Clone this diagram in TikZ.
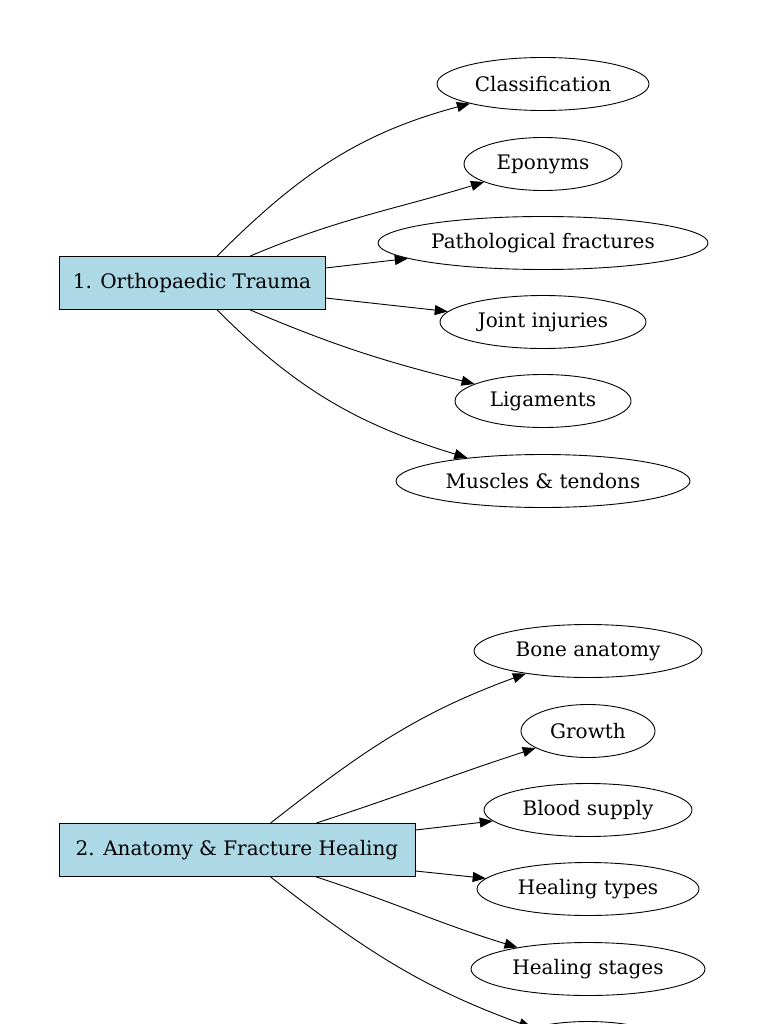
\documentclass[tikz,border=0pt]{standalone}
\usepackage{fontspec}
\setmainfont{DejaVu Serif}
\usetikzlibrary{arrows.meta,shapes.geometric,calc}
\begin{document}
\begin{tikzpicture}[x=1pt,y=-1pt,
  box/.style={draw,fill=lightblue,rectangle,minimum height=53pt,inner xsep=12pt,font=\fontsize{20}{24}\selectfont},
  ell/.style={draw,ellipse,minimum height=53pt,inner sep=0pt,font=\fontsize{20}{24}\selectfont,line width=0.9pt},
  arr/.style={line width=0.9pt,-{Triangle[length=13pt,width=10pt]}}]
\definecolor{lightblue}{HTML}{ADD8E6}
\useasboundingbox (0,0) rectangle (768,1024);
\clip (0,0) rectangle (768,1024);
\node[box,draw,line width=0.9pt,minimum width=266pt] (t) at (192,283) {1. Orthopaedic Trauma};
\node[ell,minimum width=212pt] (a1) at (543,84) {Classification};
\node[ell,minimum width=158pt] (a2) at (543,164) {Eponyms};
\node[ell,minimum width=330pt] (a3) at (543,243) {Pathological fractures};
\node[ell,minimum width=206pt] (a4) at (543,322) {Joint injuries};
\node[ell,minimum width=176pt] (a5) at (543,401) {Ligaments};
\node[ell,minimum width=294pt] (a6) at (543,481) {Muscles \& tendons};
\draw[arr] ($(t.north west)!0.594!(t.north east)$) to[out=45,in=195] (a1);
\draw[arr] ($(t.north west)!0.718!(t.north east)$) to[out=23,in=197] (a2);
\draw[arr] ($(t.east)+(0,-15)$) -- (a3);
\draw[arr] ($(t.east)+(0,15)$) -- (a4);
\draw[arr] ($(t.south west)!0.718!(t.south east)$) to[out=-23,in=166] (a5);
\draw[arr] ($(t.south west)!0.594!(t.south east)$) to[out=-45,in=163] (a6);

\node[box,draw,line width=0.9pt,minimum width=356pt] (u) at (237,850) {2. Anatomy \& Fracture Healing};
\node[ell,minimum width=228pt] (b1) at (588,651) {Bone anatomy};
\node[ell,minimum width=134pt] (b2) at (588,731) {Growth};
\node[ell,minimum width=208pt] (b3) at (588,810) {Blood supply};
\node[ell,minimum width=222pt] (b4) at (588,889) {Healing types};
\node[ell,minimum width=234pt] (b5) at (588,969) {Healing stages};
\node[ell,minimum width=170pt] (b6) at (588,1048) {};
\draw[arr] ($(u.north west)!0.594!(u.north east)$) to[out=38,in=200] (b1);
\draw[arr] ($(u.north west)!0.722!(u.north east)$) to[out=18,in=198] (b2);
\draw[arr] ($(u.east)+(0,-20)$) -- (b3);
\draw[arr] ($(u.east)+(0,21)$) -- (b4);
\draw[arr] ($(u.south west)!0.722!(u.south east)$) to[out=-18,in=163] (b5);
\draw[arr] ($(u.south west)!0.594!(u.south east)$) to[out=-38,in=160] (b6);
\end{tikzpicture}
\end{document}
